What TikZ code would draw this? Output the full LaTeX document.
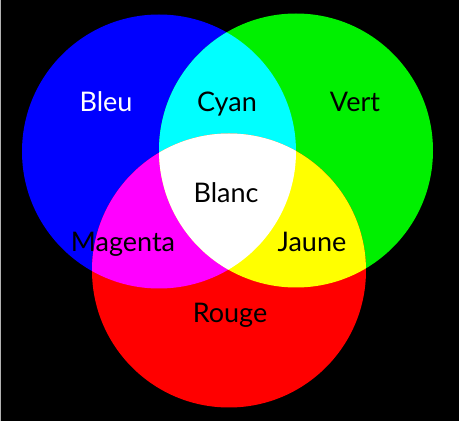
\documentclass[tikz,border=0pt]{standalone}
\usepackage{fontspec}
\setmainfont{Lato}
\definecolor{lumblue}{RGB}{0,0,255}
\definecolor{lumgreen}{RGB}{0,240,0}
\definecolor{lumred}{RGB}{255,0,0}
\definecolor{lumcyan}{RGB}{0,255,255}
\definecolor{lummagenta}{RGB}{255,0,255}
\definecolor{lumyellow}{RGB}{255,255,0}
\tikzset{
  every node/.style={font=\fontsize{27}{29}\selectfont,anchor=base},
  colourlabel/.style={text=black},
}
% circle radius
\def\rad{137}
\begin{document}
\begin{tikzpicture}[x=1pt,y=-1pt]
  \fill[black] (0,0) rectangle (459,421);
  \draw[gray!60,line width=1pt] (0.5,0) -- (0.5,421);

  \coordinate (cb) at (159,151);
  \coordinate (cg) at (296,150);
  \coordinate (cr) at (229,270);

  % primaries
  \fill[lumblue]  (cb) circle[radius=\rad];
  \fill[lumgreen] (cg) circle[radius=\rad];
  \fill[lumred]   (cr) circle[radius=\rad];

  % pairs
  \begin{scope}
    \clip (cb) circle[radius=\rad];
    \fill[lumcyan]    (cg) circle[radius=\rad];
    \fill[lummagenta] (cr) circle[radius=\rad];
  \end{scope}
  \begin{scope}
    \clip (cg) circle[radius=\rad];
    \fill[lumyellow]  (cr) circle[radius=\rad];
  \end{scope}

  % all three
  \begin{scope}
    \clip (cb) circle[radius=\rad];
    \clip (cg) circle[radius=\rad];
    \fill[white] (cr) circle[radius=\rad];
  \end{scope}

  \node[text=white]  (bleu)    at (106,111) {Bleu};
  \node[colourlabel] (vert)    at (355,111) {Vert};
  \node[colourlabel] (cyan)    at (227,111) {Cyan};
  \node[colourlabel] (blanc)   at (226,202) {Blanc};
  \node[colourlabel] (magenta) at (123,251) {Magenta};
  \node[colourlabel] (jaune)   at (312,251) {Jaune};
  \node[colourlabel] (rouge)   at (230,322) {Rouge};
\end{tikzpicture}
\end{document}
